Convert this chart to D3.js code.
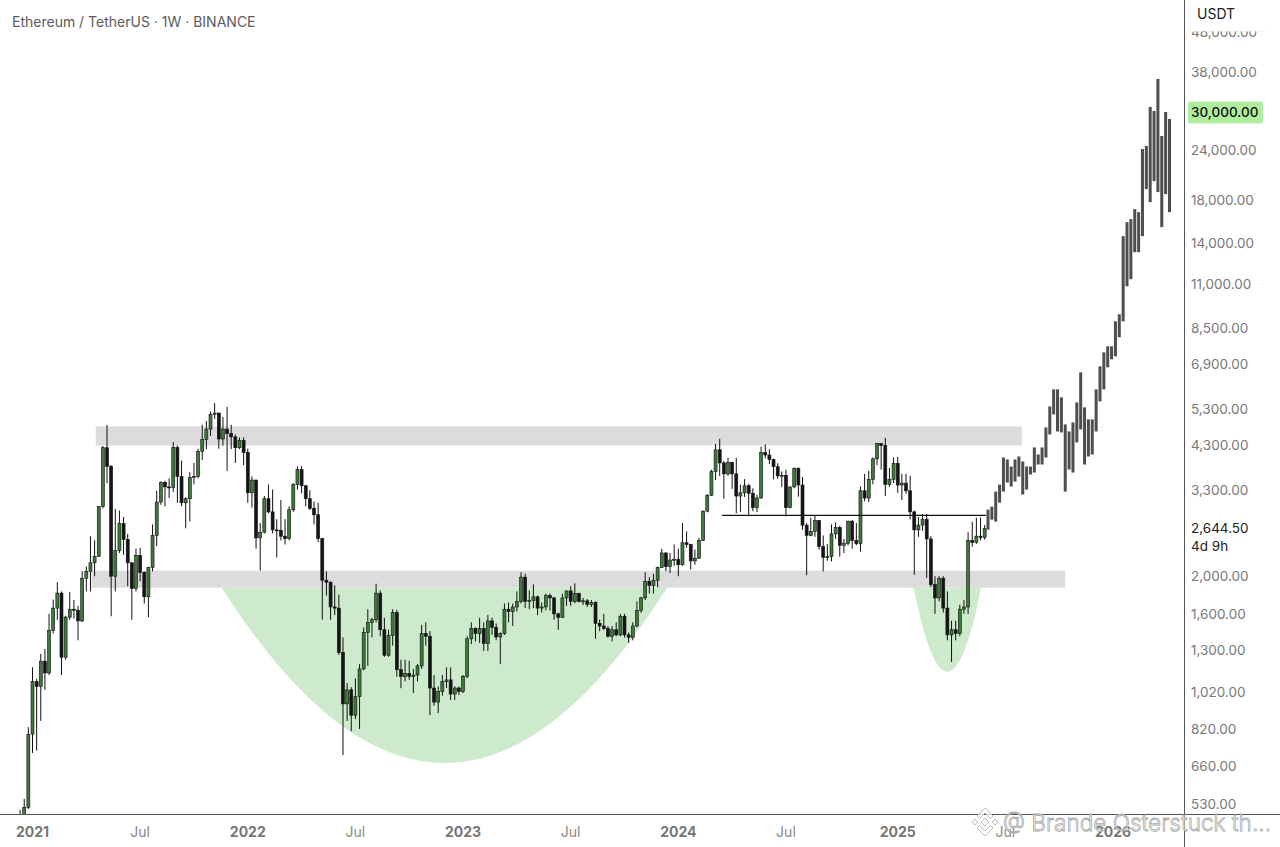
<!DOCTYPE html>
<html>
<head>
<meta charset="utf-8">
<script src="https://cdn.jsdelivr.net/npm/d3@7"></script>
<style>
  body { margin: 0; background: #fff; }
  svg { display: block; font-family: Inter, "Noto Sans", sans-serif; }
</style>
</head>
<body>
<svg id="chart" width="1280" height="847"></svg>
<script>
// weekly candles, [open, high, low, close], one array per calendar year
var candles2020 = [
  [434,512,418,479],[479,546,400,520],[520,830,515,796]
];
var candles2021 = [
  [797,1177,714,1084],[1084,1099,724,1053],[1053,1273,861,1220],[1220,1310,1032,1139],
  [1139,1608,1125,1459],[1459,1748,1433,1663],[1663,1936,1554,1815],[1815,1833,1125,1248],
  [1248,1590,1230,1578],[1578,1828,1554,1652],[1652,1743,1563,1642],[1642,1685,1378,1543],
  [1543,2062,1533,1980],[1980,2119,1833,2062],[2062,2530,1833,2166],[2166,2470,2003,2248],
  [2248,3012,2240,3012],[3012,4282,2975,4241],[4241,4842,3449,3806],[3806,3830,1586,2003],
  [2003,2965,1833,2328],[2328,2939,2294,2724],[2724,2831,2269,2482],[2482,2565,1889,2166],
  [2166,2176,1554,1865],[1865,2352,1833,2260],[2260,2364,1945,2050],[2050,2060,1708,1776],
  [1776,2118,1576,2107],[2107,2711,2060,2542],[2542,3298,2386,3088],[3088,3487,3040,3462],
  [3462,3497,3012,3373],[3373,3549,3162,3359],[3359,4385,3274,4252],[4252,4297,3075,3587],
  [3587,3934,3012,3075],[3075,3175,2650,3149],[3149,3678,2759,3563],[3563,3880,3424,3587],
  [3587,4216,3549,4150],[4150,4849,3945,4451],[4451,4955,4205,4728],[4728,5235,4540,5154],
  [5154,5507,5020,5192],[5192,5205,4216,4462],[4462,5073,4293,4728],[4728,5382,3703,4607],
  [4607,4849,4205,4518],[4518,4581,3880,4241],[4241,4503,4205,4425],[4425,4503,3829,4125]
];
var candles2022 = [
  [4125,4216,3075,3260],[3260,3587,2989,3511],[3511,3520,2352,2505],[2505,2734,2071,2590],
  [2590,3199,2570,3149],[3149,3421,2893,2916],[2916,3322,2570,2625],[2625,2795,2236,2615],
  [2615,3125,2470,2530],[2530,2795,2411,2495],[2495,3012,2470,2952],[2952,3449,2916,3421],
  [3421,3806,3322,3731],[3731,3806,3250,3397],[3397,3410,3012,3149],[3149,3308,2950,2975],
  [2975,3099,2711,2867],[2867,3075,2445,2495],[2495,2505,1554,1957],[1957,2062,1788,1934],
  [1934,1945,1554,1674],[1674,1899,1597,1663],[1663,1799,1265,1283],[1283,1401,705,951],
  [951,1074,861,1032],[1032,1048,811,890],[890,1103,870,992],[992,1199,821,1166],
  [1166,1486,1156,1443],[1443,1652,1187,1530],[1530,1572,1401,1554],[1554,1917,1530,1815],
  [1815,1844,1411,1466],[1466,1572,1252,1263],[1263,1466,1252,1416],[1416,1652,1336,1619],
  [1619,1647,1115,1161],[1161,1230,1042,1115],[1115,1230,1084,1134],[1134,1222,1094,1115],
  [1115,1166,1013,1125],[1125,1199,1084,1187],[1187,1507,1166,1433],[1433,1530,1336,1411],
  [1411,1454,890,1043],[1043,1125,941,961],[961,1053,901,1022],[1022,1125,997,1084],
  [1084,1177,1043,1094],[1094,1177,972,1007],[1007,1053,972,1043],[1043,1053,1002,1022]
];
var candles2023 = [
  [1022,1125,1013,1115],[1115,1411,1105,1390],[1390,1530,1347,1477],[1477,1486,1369,1433],
  [1433,1572,1358,1477],[1477,1530,1294,1353],[1353,1597,1294,1543],[1543,1572,1422,1487],
  [1487,1520,1378,1405],[1405,1443,1199,1433],[1433,1708,1422,1652],[1652,1719,1530,1630],
  [1630,1708,1498,1674],[1674,1833,1630,1730],[1730,2050,1708,1992],[1992,2032,1663,1730],
  [1730,1844,1652,1740],[1740,1911,1663,1776],[1776,1790,1597,1663],[1663,1719,1619,1674],
  [1674,1810,1641,1788],[1788,1810,1641,1765],[1765,1776,1554,1608],[1608,1619,1464,1576],
  [1576,1810,1570,1765],[1765,1842,1685,1838],[1838,1889,1685,1730],[1730,1922,1710,1810],
  [1810,1820,1719,1730],[1730,1765,1694,1735],[1735,1754,1674,1700],[1700,1743,1674,1719],
  [1719,1730,1390,1521],[1521,1554,1454,1498],[1498,1608,1464,1477],[1477,1498,1401,1411],
  [1411,1498,1369,1466],[1466,1530,1411,1422],[1422,1608,1411,1586],[1586,1608,1401,1422],
  [1422,1443,1358,1401],[1401,1530,1378,1498],[1498,1730,1487,1641],[1641,1776,1619,1765],
  [1765,2050,1743,1945],[1945,1992,1810,1899],[1899,2032,1810,1957],[1957,2119,1878,2107],
  [2107,2352,2100,2294],[2294,2305,2062,2118],[2118,2294,2040,2202],[2202,2411,2130,2212]
];
var candles2024 = [
  [2212,2352,2003,2142],[2142,2734,2130,2435],[2435,2602,2364,2411],[2411,2421,2083,2190],
  [2190,2342,2142,2225],[2225,2505,2215,2470],[2470,2939,2460,2929],[2929,3236,2910,3213],
  [3213,3731,3200,3689],[3689,4333,3511,4190],[4190,4466,3598,3880],[3880,3920,3149,3640],
  [3640,3999,3598,3895],[3895,3906,3335,3640],[3640,3999,2893,3199],[3199,3421,2916,3260],
  [3260,3530,3180,3397],[3397,3435,2841,3250],[3250,3344,2927,2989],[2989,3221,2910,3162],
  [3162,4267,3149,4125],[4125,4322,3984,4064],[4064,4205,3855,3959],[3959,3980,3525,3795],
  [3795,3873,3535,3598],[3598,3692,3373,3610],[3610,3731,2841,2989],[2989,3383,2975,3373],
  [3373,3781,3346,3756],[3756,3781,3186,3411],[3411,3574,2625,2698],[2698,2734,2015,2542],
  [2542,2819,2530,2600],[2600,2851,2520,2772],[2772,2782,2340,2382],[2382,2540,2060,2236],
  [2236,2415,2193,2245],[2245,2711,2183,2565],[2565,2741,2490,2660],[2660,2690,2245,2399],
  [2399,2490,2294,2423],[2423,2772,2400,2761],[2761,2782,2352,2470],[2470,2734,2400,2423],
  [2423,3383,2310,3298],[3298,3640,3101,3162],[3162,3703,3090,3525],[3525,4009,3424,3973],
  [3973,4363,3829,4346],[4346,4360,3731,4297],[4297,4492,3199,3424],[3424,3767,3373,3525],
  [3525,4009,3449,3870]
];
var candles2025 = [
  [3870,4020,3260,3411],[3411,3640,3125,3449],[3449,3640,3240,3298],[3298,3600,2790,2916],
  [2916,2939,2020,2625],[2625,2831,2520,2700],[2700,2880,2610,2790],[2790,2880,1985,2490],
  [2490,2530,1878,1907],[1907,2003,1608,1765],[1765,2003,1730,1980],[1980,2003,1620,1663],
  [1663,1833,1378,1422],[1422,1545,1215,1466],[1466,1545,1378,1433],[1433,1697,1411,1652],
  [1652,1743,1608,1674],[1674,2590,1608,2470],[2470,2752,2380,2441],[2441,2820,2420,2530],
  [2530,2820,2470,2510],[2510,2700,2480,2644.5]
];
var yearStarts = ["2020-12-14", "2021-01-04", "2022-01-03", "2023-01-02", "2024-01-01", "2025-01-06"];

// projected (ghost) bars after the last candle, high / low
var ghostHigh = [2955,3007,3283,3420,4006,3959,3800,3959,4029,3913,3800,3800,4247,4076,4247,4774,
  5397,5961,5961,5689,4858,4663,4915,5525,6584,5366,5002,5002,5961,6819,7400,7664,7664,8870,9240,
  14578,15821,16101,17070,16773,24240,24669,30985,30267,36493,26154,30092,28886];
var ghostLow = [2629,2787,2755,3079,3283,3461,3381,3481,3584,3226,3322,3626,3669,3845,3845,4006,
  4582,5150,4663,4636,3283,3734,3669,4373,4718,3845,4029,4076,4663,5557,5961,6779,7104,7230,8079,
  8870,10884,11339,13277,13277,14578,19187,17784,20105,18853,15366,18634,16773];

// drawings: zones [from, to, low, high], cups [from, to, rim, bottom], neckline
var zones = [["2021-04-21", "2025-08-04", 4296, 4801], ["2021-04-14", "2025-10-16", 1873, 2069]];
var cups = [["2021-11-20", "2023-12-13", 1873, 673], ["2025-02-02", "2025-05-27", 1873, 1147]];
var neckline = ["2024-03-15", "2025-06-04", 2858];

var priceTicks = [48000, 38000, 24000, 18000, 14000, 11000, 8500, 6900, 5300, 4300, 3300, 2000, 1600, 1300, 1020, 820, 660, 530];
var targetPrice = 30000;
var lastPrice = 2644.5;
var countdown = "4d 9h";
var timeTicks = [["2021-01-04","2021"],["2021-07-05","Jul"],["2022-01-03","2022"],["2022-07-04","Jul"],
  ["2023-01-02","2023"],["2023-07-03","Jul"],["2024-01-01","2024"],["2024-07-01","Jul"],
  ["2025-01-06","2025"],["2025-07-07","Jul"],["2026-01-05","2026"]];

var W = 1280, H = 847, axisX = 1184, plotH = 814;
var parse = d3.utcParse("%Y-%m-%d");
var svg = d3.select("#chart");

var x = d3.scaleUtc()
  .domain([parse("2021-01-04"), parse("2026-01-05")])
  .range([32.5, 1113]);
var y = d3.scaleLog().domain([500, 57850]).range([plotH, 0]);
var gx = d3.scaleLinear().domain([0, ghostHigh.length - 1]).range([988, 1169.5]);

var candles = [];
[candles2020, candles2021, candles2022, candles2023, candles2024, candles2025].forEach(function (rows, s) {
  var t0 = parse(yearStarts[s]);
  rows.forEach(function (r, k) {
    candles.push({ date: d3.utcDay.offset(t0, 7 * k), o: r[0], h: r[1], l: r[2], c: r[3] });
  });
});

svg.append("clipPath").attr("id", "plot")
  .append("rect").attr("width", axisX).attr("height", plotH);
var plot = svg.append("g").attr("clip-path", "url(#plot)");

// zones
plot.selectAll(".zone").data(zones).enter().append("rect")
  .attr("x", function (d) { return x(parse(d[0])); })
  .attr("width", function (d) { return x(parse(d[1])) - x(parse(d[0])); })
  .attr("y", function (d) { return y(d[3]); })
  .attr("height", function (d) { return y(d[2]) - y(d[3]); })
  .attr("fill", "#dcdcdc");

// cups
plot.selectAll(".cup").data(cups).enter().append("path")
  .attr("d", function (d) {
    var x0 = x(parse(d[0])), x1 = x(parse(d[1])), yr = y(d[2]), yb = y(d[3]);
    var p = d3.path();
    p.moveTo(x0, yr);
    p.quadraticCurveTo((x0 + x1) / 2, 2 * yb - yr, x1, yr);
    p.closePath();
    return p.toString();
  })
  .attr("fill", "#cdeacd");

// candles
var cg = plot.selectAll(".candle").data(candles).enter().append("g");
cg.append("line")
  .attr("x1", function (d) { return x(d.date); })
  .attr("x2", function (d) { return x(d.date); })
  .attr("y1", function (d) { return y(d.h); })
  .attr("y2", function (d) { return y(d.l); })
  .attr("stroke", "#111").attr("stroke-width", 1);
cg.append("rect")
  .attr("x", function (d) { return x(d.date) - 1.5; })
  .attr("width", 3)
  .attr("y", function (d) { return y(Math.max(d.o, d.c)); })
  .attr("height", function (d) { return Math.max(1, Math.abs(y(d.o) - y(d.c))); })
  .attr("fill", function (d) { return d.c >= d.o ? "#3c7b36" : "#151515"; })
  .attr("stroke", "#111").attr("stroke-width", 0.6);

// neckline
plot.append("line")
  .attr("x1", x(parse(neckline[0]))).attr("x2", x(parse(neckline[1])))
  .attr("y1", y(neckline[2])).attr("y2", y(neckline[2]))
  .attr("stroke", "#111").attr("stroke-width", 1.3);

// ghost bars
plot.selectAll(".ghost").data(ghostHigh).enter().append("rect")
  .attr("x", function (d, i) { return gx(i) - 1.5; })
  .attr("width", 3)
  .attr("y", function (d) { return y(d); })
  .attr("height", function (d, i) { return y(ghostLow[i]) - y(d); })
  .attr("fill", "#4e4e4e");

// axes lines
svg.append("line").attr("x1", 0).attr("x2", W).attr("y1", plotH + 0.5).attr("y2", plotH + 0.5)
  .attr("stroke", "#555").attr("stroke-width", 1);
svg.append("line").attr("x1", axisX + 0.5).attr("x2", axisX + 0.5).attr("y1", 0).attr("y2", H)
  .attr("stroke", "#555").attr("stroke-width", 1);

// price labels
var fmt = d3.format(",.2f");
svg.selectAll(".ptick").data(priceTicks).enter().append("text")
  .attr("x", 1191).attr("y", function (d) { return y(d); })
  .attr("dy", "0.35em")
  .attr("font-size", 13.5).attr("fill", "#787878")
  .text(function (d) { return fmt(d); });

svg.append("rect").attr("x", 1188).attr("y", y(targetPrice) - 11).attr("width", 75).attr("height", 22)
  .attr("rx", 2).attr("fill", "#aeee9f");
svg.append("text").attr("x", 1191).attr("y", y(targetPrice)).attr("dy", "0.35em")
  .attr("font-size", 13.5).attr("fill", "#111").attr("font-weight", 500).text(fmt(targetPrice));

svg.append("text").attr("x", 1191).attr("y", y(lastPrice)).attr("dy", "0.35em")
  .attr("font-size", 13.5).attr("fill", "#222").text(fmt(lastPrice));
svg.append("text").attr("x", 1191).attr("y", y(lastPrice) + 18).attr("dy", "0.35em")
  .attr("font-size", 13.5).attr("fill", "#222").text(countdown);

// currency box, covering the top half of the highest price label
svg.append("rect").attr("x", 1187).attr("y", 0).attr("width", 80).attr("height", 31)
  .attr("fill", "#fff");
svg.append("line").attr("x1", 1187).attr("x2", 1267).attr("y1", 31).attr("y2", 31)
  .attr("stroke", "#f2f2f2");
svg.append("text").attr("x", 1197).attr("y", 19).attr("font-size", 14).attr("fill", "#222").text("USDT");

// time labels
svg.selectAll(".ttick").data(timeTicks).enter().append("text")
  .attr("x", function (d) { return x(parse(d[0])); })
  .attr("y", 837)
  .attr("text-anchor", "middle")
  .attr("font-size", 14)
  .attr("font-weight", function (d) { return d[1] === "Jul" ? 400 : 700; })
  .attr("fill", function (d) { return d[1] === "Jul" ? "#8a8a8a" : "#777"; })
  .text(function (d) { return d[1]; });

// title
svg.append("text").attr("x", 12).attr("y", 27).attr("font-size", 14).attr("fill", "#5c5c5c")
  .text("Ethereum / TetherUS · 1W · BINANCE");

// watermark
var wm = svg.append("g").attr("transform", "translate(985,822)")
  .attr("fill", "rgba(255,255,255,0.75)").attr("stroke", "#bdbdbd").attr("stroke-width", 1);
["M0,-4L4,0L0,4L-4,0Z", "M-10,-3L-7,0L-10,3L-13,0Z", "M10,-3L13,0L10,3L7,0Z",
 "M0,-14L8,-6L5.5,-3.5L0,-9L-5.5,-3.5L-8,-6Z", "M0,14L8,6L5.5,3.5L0,9L-5.5,3.5L-8,6Z"]
  .forEach(function (p) { wm.append("path").attr("d", p); });
svg.append("text").attr("x", 1003).attr("y", 831)
  .attr("font-size", 23).attr("font-weight", 300)
  .attr("textLength", 268).attr("lengthAdjust", "spacingAndGlyphs")
  .attr("fill", "rgba(255,255,255,0.7)").attr("stroke", "#a8a8a8").attr("stroke-width", 0.8)
  .text("@ Brande Osterstuck th...");
</script>
</body>
</html>
